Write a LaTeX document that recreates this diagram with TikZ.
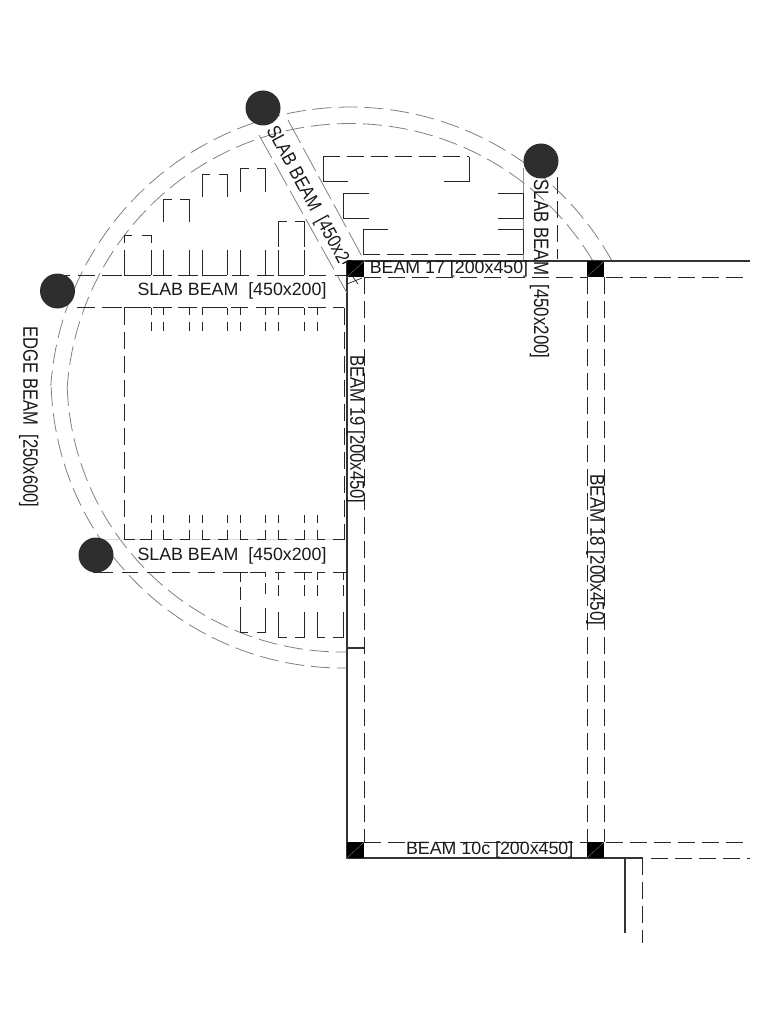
\documentclass[tikz,border=0pt]{standalone}
\usepackage{fontspec}
\setmainfont{Liberation Sans}
\usepackage{xcolor}
\usetikzlibrary{positioning,calc}

\begin{document}
\begin{tikzpicture}[x=1pt, y=-1pt, thick]
% Define styles for different types of lines and labels
\tikzstyle{wall} = [draw=black!80, line width=1.05pt]
\tikzstyle{rib} = [draw=black!85, line width=0.9pt]
\tikzstyle{hidden} = [draw=black!85, line width=1pt, dash pattern=on 17pt off 7pt]
\tikzstyle{beamedge} = [draw=black!50, line width=0.8pt, dash pattern=on 26pt off 6pt]
\tikzstyle{ring} = [draw=black!50, line width=0.8pt, dash pattern=on 19pt off 7pt]
\tikzstyle{faint} = [draw=black!15, line width=0.9pt]
\tikzstyle{roundcol} = [circle, fill=black!82, minimum size=35pt, inner sep=0pt]
\tikzstyle{squarecol} = [rectangle, fill=black, minimum width=17pt, minimum height=16pt, inner sep=0pt]
\tikzstyle{lbl} = [inner sep=0pt, text=black!90, font=\fontsize{17.8pt}{20pt}\selectfont]

\useasboundingbox (0,0) rectangle (768,1024);

% Curved slab edge, two arcs on each line
\draw [ring] plot [domain=29:176, samples=80] ({350+300*cos(\x)},{407-300*sin(\x)});
\draw [ring] plot [domain=178:89, samples=60] ({342+291*cos(\x)},{377+291*sin(\x)});
\draw [ring] plot [domain=31:176, samples=80] ({350+283.5*cos(\x)},{407-283.5*sin(\x)});
\draw [ring] plot [domain=178:89, samples=60] ({342+275*cos(\x)},{377+275*sin(\x)});

% Main frame
\draw [wall] (347,261) -- (750,261);
\draw [wall] (347,261) -- (347,858) -- (643,858);
\draw [wall] (347,648) -- (364,648);
\draw [wall] (625,858) -- (625,933);
\draw [hidden] (642,858) -- (642,943);
\draw [hidden] (651,858) -- (750,858);
\draw [hidden] (606,842) -- (750,842);
\draw [hidden] (606,277) -- (750,277);
\draw [hidden] (364,277) -- (587,277);
\draw [hidden] (364,842) -- (587,842);
\draw [hidden] (364,277) -- (364,842);
\draw [hidden] (587,277) -- (587,842);
\draw [hidden] (604,277) -- (604,842);

% Slab beams
\draw [rib] (58,275) -- (70,275) (78,275) -- (95,275) (102,275) -- (118,275) (115,275) -- (122,275) (124,275) -- (151,275) (153,275) -- (172,275) (178,275) -- (198,275) (202,275) -- (227,275) (232,275) -- (249,275) (257,275) -- (274,275) (278,275) -- (304,275) (309,275) -- (326,275) (335,275) -- (347,275);
\draw [rib] (77,307.5) -- (95,307.5) (102,307.5) -- (122,307.5) (124,307.5) -- (151,307.5) (153,307.5) -- (172,307.5) (178,307.5) -- (197,307.5) (202,307.5) -- (227,307.5) (231,307.5) -- (248,307.5) (256,307.5) -- (274,307.5) (278,307.5) -- (304,307.5) (308,307.5) -- (326,307.5) (333,307.5) -- (344,307.5);
\draw [faint] (97,539.5) -- (345,539.5);
\draw [rib] (124,539.5) -- (135,539.5) (140,539.5) -- (151,539.5) (163,539.5) -- (172,539.5) (180,539.5) -- (189,539.5) (202,539.5) -- (210,539.5) (218,539.5) -- (227,539.5) (241,539.5) -- (248,539.5) (257,539.5) -- (266,539.5) (278,539.5) -- (287,539.5) (295,539.5) -- (304,539.5) (317,539.5) -- (325,539.5) (333,539.5) -- (344,539.5);
\draw [rib] (93,572) -- (113,572) (122,572) -- (138,572) (147,572) -- (165,572) (172,572) -- (190,572) (198,572) -- (215,572) (223,572) -- (248,572) (250,572) -- (266,572) (275,572) -- (285,572) (294,572) -- (312,572) (317,572) -- (325,572) (333,572) -- (347,572);
\draw [beamedge] (259,135) -- (347,293);
\draw [beamedge] (288,120) -- (365,262);
\draw [draw=black!45, line width=0.7pt] (523.3,168) -- (523.3,261);
\draw [hidden] (557.5,177) -- (557.5,259);

% Ribs above the upper slab beam
\draw [rib] (124.3,275) -- (124.3,250) (124.3,243) -- (124.3,235) -- (132,235) (142,235) -- (151,235) -- (151,243) (151,250) -- (151,275);
\draw [rib] (163,275) -- (163,250) (163,222) -- (163,199) -- (172,199) (180,199) -- (189,199) -- (189,222) (189,250) -- (189,275);
\draw [rib] (202,275) -- (202,250) (202,197) -- (202,174) -- (210,174) (219,174) -- (227.5,174) -- (227.5,197) (227.5,250) -- (227.5,275);
\draw [rib] (240.5,275) -- (240.5,250) (240.5,192) -- (240.5,168) -- (249,168) (257,168) -- (265.7,168) -- (265.7,192) (265.7,250) -- (265.7,275);
\draw [rib] (278.3,275) -- (278.3,250) (278.3,247) -- (278.3,221) -- (287,221) (295,221) -- (304,221) -- (304,247) (304,250) -- (304,275);

% Panel between the slab beams
\draw [hidden] (124.3,307.5) -- (124.3,539.5);
\draw [hidden] (344,307.5) -- (344,539.5);
\draw [rib] (151,307.5) -- (151,315) (151,322) -- (151,331) (163,307.5) -- (163,315) (163,322) -- (163,331) (189,307.5) -- (189,315) (189,322) -- (189,331) (202,307.5) -- (202,315) (202,322) -- (202,331) (227.5,307.5) -- (227.5,315) (227.5,322) -- (227.5,331);
\draw [rib] (240.5,307.5) -- (240.5,315) (240.5,322) -- (240.5,331) (265.7,307.5) -- (265.7,315) (265.7,322) -- (265.7,331) (278.3,307.5) -- (278.3,315) (278.3,322) -- (278.3,331) (304,307.5) -- (304,315) (304,322) -- (304,331) (317,307.5) -- (317,315) (317,322) -- (317,331);
\draw [rib] (151,539.5) -- (151,530) (151,523) -- (151,515) (163,539.5) -- (163,530) (163,523) -- (163,515) (189,539.5) -- (189,530) (189,523) -- (189,515) (202,539.5) -- (202,530) (202,523) -- (202,515) (227.5,539.5) -- (227.5,530) (227.5,523) -- (227.5,515);
\draw [rib] (240.5,539.5) -- (240.5,530) (240.5,523) -- (240.5,515) (265.7,539.5) -- (265.7,530) (265.7,523) -- (265.7,515) (278.3,539.5) -- (278.3,530) (278.3,523) -- (278.3,515) (304,539.5) -- (304,530) (304,523) -- (304,515) (317,539.5) -- (317,530) (317,523) -- (317,515);

% Ribs below the lower slab beam
\draw [rib] (240.5,572) -- (240.5,582) (240.5,587) -- (240.5,600) (240.5,607) -- (240.5,632) -- (248,632) (257,632) -- (265.7,632) -- (265.7,608) (265.7,594) -- (265.7,583) (265.7,577) -- (265.7,572);
\draw [rib] (278.3,572) -- (278.3,580) (278.3,585) -- (278.3,596) (278.3,612) -- (278.3,637.5) -- (287,637.5) (295,637.5) -- (304,637.5) -- (304,612) (304,596) -- (304,585) (304,580) -- (304,572);
\draw [rib] (317,572) -- (317,580) (317,585) -- (317,596) (317,612) -- (317,637.5) -- (325,637.5) (333,637.5) -- (343.5,637.5) -- (343.5,612) (343.5,596) -- (343.5,585) (343.5,580) -- (343.5,572);

% Ribs between the two upper slab beams
\draw [hidden] (323,157) -- (469,157);
\draw [rib] (348,181) -- (323,181) -- (323,157) (469,157) -- (469,181) -- (444,181);
\draw [rib] (369,193) -- (343,193) -- (343,218) -- (369,218);
\draw [rib] (498,193) -- (523,193) -- (523,218) -- (498,218);
\draw [hidden] (363,254) -- (523,254);
\draw [rib] (388,229) -- (363,229) -- (363,254) (523,254) -- (523,229) -- (498,229);

% Place labels
\node [lbl] (slabtop) at (232,291) {SLAB BEAM\ \ [450x200]};
\node [lbl] (slabbot) at (232,556) {SLAB BEAM\ \ [450x200]};
\begin{scope}
\clip (240,100) rectangle (352,263);
\node [lbl, rotate=-61.5, xscale=.93, yscale=1.08] (slabdiag) at (312.5,205) {SLAB BEAM\ \ [450x200]};
\end{scope}
\node [lbl, rotate=-90, xscale=.947, yscale=1.17] (slabvert) at (539.5,269) {SLAB BEAM\ \ [450x200]};
\node [lbl, rotate=-90, xscale=.933, yscale=1.17] (edge) at (28.8,417) {EDGE BEAM\ \ [250x600]};
\node [lbl] (beamtop) at (449,269) {BEAM 17 [200x450]};
\node [lbl, rotate=-90, xscale=.936, yscale=1.13] (beamleft) at (355.5,429.5) {BEAM 19 [200x450]};
\node [lbl, rotate=-90, xscale=.955, yscale=1.13] (beamright) at (595.5,550) {BEAM 18 [200x450]};
\node [lbl] (beambot) at (489.7,849.5) {BEAM 10c [200x450]};

% Place columns
\node [squarecol] (sqtl) at (355.5,269) {};
\node [squarecol] (sqtr) at (595.5,269) {};
\node [squarecol] (sqbl) at (355.5,850) {};
\node [squarecol] (sqbr) at (595.5,850) {};
\node [roundcol] (cola) at (263,108) {};
\node [roundcol] (colb) at (541,161) {};
\node [roundcol] (colc) at (57.5,291) {};
\node [roundcol] (cold) at (96,555) {};

% Marks on the columns
\draw [draw=black!40, line width=0.25pt] (sqtl.south west) -- (sqtl.north east) (sqtr.south west) -- (sqtr.north east) (sqbl.south west) -- (sqbl.north east) (sqbr.south west) -- (sqbr.north east);
\draw [rib, line width=0.7pt] (347,284) -- (362,278) (353,277) -- (358,284);

\end{tikzpicture}
\end{document}
